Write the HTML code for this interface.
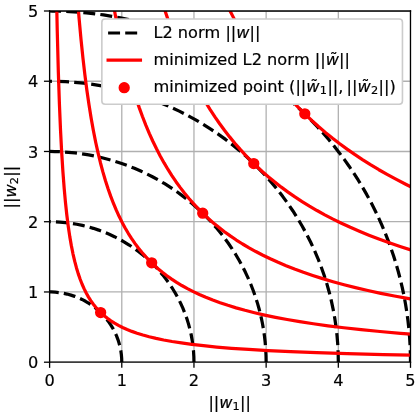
<!DOCTYPE html>
<html><head><meta charset="utf-8"><style>
html,body{margin:0;padding:0;background:#fff;width:416px;height:414px;overflow:hidden}
svg{display:block}
svg text{stroke:#000;stroke-width:0.2px;stroke-linejoin:round}
</style></head><body>
<svg width="416" height="414" viewBox="0 0 416 414" version="1.1">
  <defs>
  <style type="text/css">*{stroke-linejoin: round; stroke-linecap: butt}</style>
 </defs>
 <g id="figure_1">
  <g id="patch_1">
   <path d="M 0 414 L 416 414 L 416 0 L 0 0 z
" style="fill: #ffffff"/>
  </g>
  <g id="axes_1">
   <g id="patch_2">
    <path d="M 49.6 362.2 L 410.5 362.2 L 410.5 11 L 49.6 11 z
" style="fill: #ffffff"/>
   </g>
   <g id="matplotlib.axis_1">
    <g id="xtick_1">
     <g id="line2d_1">
      <path d="M 49.6 362.2 L 49.6 11 " clip-path="url(#p5a81e6f7e7)" style="fill: none; stroke: #b0b0b0; stroke-width: 1.292; stroke-linecap: square"/>
     </g>
     <g id="line2d_2">
      <defs>
       <path id="m3a37640025" d="M 0 0 L 0 5.6525 " style="stroke: #000000; stroke-width: 1.292"/>
      </defs>
      <g>
       <use href="#m3a37640025" x="49.6" y="362.2" style="stroke: #000000; stroke-width: 1.292"/>
      </g>
     </g>
     <g id="text_1">
      <text style="font-size: 16.15px; font-family: 'DejaVu Sans', sans-serif; text-anchor: middle" x="49.6" y="385.776477" transform="rotate(-0 49.6 385.776477)">0</text>
     </g>
    </g>
    <g id="xtick_2">
     <g id="line2d_3">
      <path d="M 121.78 362.2 L 121.78 11 " clip-path="url(#p5a81e6f7e7)" style="fill: none; stroke: #b0b0b0; stroke-width: 1.292; stroke-linecap: square"/>
     </g>
     <g id="line2d_4">
      <g>
       <use href="#m3a37640025" x="121.78" y="362.2" style="stroke: #000000; stroke-width: 1.292"/>
      </g>
     </g>
     <g id="text_2">
      <text style="font-size: 16.15px; font-family: 'DejaVu Sans', sans-serif; text-anchor: middle" x="121.78" y="385.776477" transform="rotate(-0 121.78 385.776477)">1</text>
     </g>
    </g>
    <g id="xtick_3">
     <g id="line2d_5">
      <path d="M 193.96 362.2 L 193.96 11 " clip-path="url(#p5a81e6f7e7)" style="fill: none; stroke: #b0b0b0; stroke-width: 1.292; stroke-linecap: square"/>
     </g>
     <g id="line2d_6">
      <g>
       <use href="#m3a37640025" x="193.96" y="362.2" style="stroke: #000000; stroke-width: 1.292"/>
      </g>
     </g>
     <g id="text_3">
      <text style="font-size: 16.15px; font-family: 'DejaVu Sans', sans-serif; text-anchor: middle" x="193.96" y="385.776477" transform="rotate(-0 193.96 385.776477)">2</text>
     </g>
    </g>
    <g id="xtick_4">
     <g id="line2d_7">
      <path d="M 266.14 362.2 L 266.14 11 " clip-path="url(#p5a81e6f7e7)" style="fill: none; stroke: #b0b0b0; stroke-width: 1.292; stroke-linecap: square"/>
     </g>
     <g id="line2d_8">
      <g>
       <use href="#m3a37640025" x="266.14" y="362.2" style="stroke: #000000; stroke-width: 1.292"/>
      </g>
     </g>
     <g id="text_4">
      <text style="font-size: 16.15px; font-family: 'DejaVu Sans', sans-serif; text-anchor: middle" x="266.14" y="385.776477" transform="rotate(-0 266.14 385.776477)">3</text>
     </g>
    </g>
    <g id="xtick_5">
     <g id="line2d_9">
      <path d="M 338.32 362.2 L 338.32 11 " clip-path="url(#p5a81e6f7e7)" style="fill: none; stroke: #b0b0b0; stroke-width: 1.292; stroke-linecap: square"/>
     </g>
     <g id="line2d_10">
      <g>
       <use href="#m3a37640025" x="338.32" y="362.2" style="stroke: #000000; stroke-width: 1.292"/>
      </g>
     </g>
     <g id="text_5">
      <text style="font-size: 16.15px; font-family: 'DejaVu Sans', sans-serif; text-anchor: middle" x="338.32" y="385.776477" transform="rotate(-0 338.32 385.776477)">4</text>
     </g>
    </g>
    <g id="xtick_6">
     <g id="line2d_11">
      <path d="M 410.5 362.2 L 410.5 11 " clip-path="url(#p5a81e6f7e7)" style="fill: none; stroke: #b0b0b0; stroke-width: 1.292; stroke-linecap: square"/>
     </g>
     <g id="line2d_12">
      <g>
       <use href="#m3a37640025" x="410.5" y="362.2" style="stroke: #000000; stroke-width: 1.292"/>
      </g>
     </g>
     <g id="text_6">
      <text style="font-size: 16.15px; font-family: 'DejaVu Sans', sans-serif; text-anchor: middle" x="410.5" y="385.776477" transform="rotate(-0 410.5 385.776477)">5</text>
     </g>
    </g>
    <g id="text_7" transform="translate(-0.3 0.5)">
     <!-- $||w_1||$ -->
     <g transform="translate(208.732 408.030672)">
      <text>
       <tspan x="0" y="-0.765625" style="font-size: 16.15px; font-family: 'DejaVu Sans'">|</tspan>
       <tspan x="5.432739" y="-0.765625" style="font-size: 16.15px; font-family: 'DejaVu Sans'">|</tspan>
       <tspan x="31.672601" y="-0.765625" style="font-size: 16.15px; font-family: 'DejaVu Sans'">|</tspan>
       <tspan x="37.105341" y="-0.765625" style="font-size: 16.15px; font-family: 'DejaVu Sans'">|</tspan>
       <tspan x="10.865479" y="-0.765625" style="font-style: oblique; font-size: 16.15px; font-family: 'DejaVu Sans'">w</tspan>
       <tspan x="24.05365" y="1.859375" style="font-size: 11.305px; font-family: 'DejaVu Sans'">1</tspan>
      </text>
     </g>
    </g>
   </g>
   <g id="matplotlib.axis_2">
    <g id="ytick_1">
     <g id="line2d_13">
      <path d="M 49.6 362.2 L 410.5 362.2 " clip-path="url(#p5a81e6f7e7)" style="fill: none; stroke: #b0b0b0; stroke-width: 1.292; stroke-linecap: square"/>
     </g>
     <g id="line2d_14">
      <defs>
       <path id="m03eec54f44" d="M 0 0 L -5.6525 0 " style="stroke: #000000; stroke-width: 1.292"/>
      </defs>
      <g>
       <use href="#m03eec54f44" x="49.6" y="362.2" style="stroke: #000000; stroke-width: 1.292"/>
      </g>
     </g>
     <g id="text_8">
      <text style="font-size: 16.15px; font-family: 'DejaVu Sans', sans-serif; text-anchor: end" x="38.295" y="368.335738" transform="rotate(-0 38.295 368.335738)">0</text>
     </g>
    </g>
    <g id="ytick_2">
     <g id="line2d_15">
      <path d="M 49.6 291.96 L 410.5 291.96 " clip-path="url(#p5a81e6f7e7)" style="fill: none; stroke: #b0b0b0; stroke-width: 1.292; stroke-linecap: square"/>
     </g>
     <g id="line2d_16">
      <g>
       <use href="#m03eec54f44" x="49.6" y="291.96" style="stroke: #000000; stroke-width: 1.292"/>
      </g>
     </g>
     <g id="text_9">
      <text style="font-size: 16.15px; font-family: 'DejaVu Sans', sans-serif; text-anchor: end" x="38.295" y="298.095738" transform="rotate(-0 38.295 298.095738)">1</text>
     </g>
    </g>
    <g id="ytick_3">
     <g id="line2d_17">
      <path d="M 49.6 221.72 L 410.5 221.72 " clip-path="url(#p5a81e6f7e7)" style="fill: none; stroke: #b0b0b0; stroke-width: 1.292; stroke-linecap: square"/>
     </g>
     <g id="line2d_18">
      <g>
       <use href="#m03eec54f44" x="49.6" y="221.72" style="stroke: #000000; stroke-width: 1.292"/>
      </g>
     </g>
     <g id="text_10">
      <text style="font-size: 16.15px; font-family: 'DejaVu Sans', sans-serif; text-anchor: end" x="38.295" y="227.855738" transform="rotate(-0 38.295 227.855738)">2</text>
     </g>
    </g>
    <g id="ytick_4">
     <g id="line2d_19">
      <path d="M 49.6 151.48 L 410.5 151.48 " clip-path="url(#p5a81e6f7e7)" style="fill: none; stroke: #b0b0b0; stroke-width: 1.292; stroke-linecap: square"/>
     </g>
     <g id="line2d_20">
      <g>
       <use href="#m03eec54f44" x="49.6" y="151.48" style="stroke: #000000; stroke-width: 1.292"/>
      </g>
     </g>
     <g id="text_11">
      <text style="font-size: 16.15px; font-family: 'DejaVu Sans', sans-serif; text-anchor: end" x="38.295" y="157.615738" transform="rotate(-0 38.295 157.615738)">3</text>
     </g>
    </g>
    <g id="ytick_5">
     <g id="line2d_21">
      <path d="M 49.6 81.24 L 410.5 81.24 " clip-path="url(#p5a81e6f7e7)" style="fill: none; stroke: #b0b0b0; stroke-width: 1.292; stroke-linecap: square"/>
     </g>
     <g id="line2d_22">
      <g>
       <use href="#m03eec54f44" x="49.6" y="81.24" style="stroke: #000000; stroke-width: 1.292"/>
      </g>
     </g>
     <g id="text_12">
      <text style="font-size: 16.15px; font-family: 'DejaVu Sans', sans-serif; text-anchor: end" x="38.295" y="87.375738" transform="rotate(-0 38.295 87.375738)">4</text>
     </g>
    </g>
    <g id="ytick_6">
     <g id="line2d_23">
      <path d="M 49.6 11 L 410.5 11 " clip-path="url(#p5a81e6f7e7)" style="fill: none; stroke: #b0b0b0; stroke-width: 1.292; stroke-linecap: square"/>
     </g>
     <g id="line2d_24">
      <g>
       <use href="#m03eec54f44" x="49.6" y="11" style="stroke: #000000; stroke-width: 1.292"/>
      </g>
     </g>
     <g id="text_13">
      <text style="font-size: 16.15px; font-family: 'DejaVu Sans', sans-serif; text-anchor: end" x="38.295" y="17.135738" transform="rotate(-0 38.295 17.135738)">5</text>
     </g>
    </g>
    <g id="text_14" transform="translate(-1.2 0.5)">
     <!-- $||w_2||$ -->
     <g transform="translate(17.683563 207.918) rotate(-90)">
      <text>
       <tspan x="0" y="-0.765625" style="font-size: 16.15px; font-family: 'DejaVu Sans'">|</tspan>
       <tspan x="5.432739" y="-0.765625" style="font-size: 16.15px; font-family: 'DejaVu Sans'">|</tspan>
       <tspan x="31.672601" y="-0.765625" style="font-size: 16.15px; font-family: 'DejaVu Sans'">|</tspan>
       <tspan x="37.105341" y="-0.765625" style="font-size: 16.15px; font-family: 'DejaVu Sans'">|</tspan>
       <tspan x="10.865479" y="-0.765625" style="font-style: oblique; font-size: 16.15px; font-family: 'DejaVu Sans'">w</tspan>
       <tspan x="24.05365" y="1.859375" style="font-size: 11.305px; font-family: 'DejaVu Sans'">2</tspan>
      </text>
     </g>
    </g>
   </g>
   <g id="line2d_25">
    <path d="M 121.78 362.2 L 121.669845 358.320924 L 121.339714 354.453687 L 120.790617 350.610094 L 120.024229 346.801876 L 119.042888 343.040658 L 117.849592 339.337918 L 116.44798 335.704958 L 114.842333 332.152869 L 113.03755 328.69249 L 111.03914 325.334384 L 108.853203 322.088801 L 106.48641 318.965648 L 103.945987 315.974456 L 101.239686 313.124355 L 98.375768 310.424046 L 95.362975 307.881769 L 92.210502 305.505285 L 88.927972 303.301847 L 85.525403 301.27818 L 82.013181 299.440462 L 78.402026 297.794301 L 74.70296 296.344722 L 70.927274 295.096149 L 67.086491 294.052394 L 63.192336 293.216641 L 59.256694 292.591443 L 55.291577 292.178707 L 51.309088 291.979693 L 49.6 291.96 L 49.6 291.96 " clip-path="url(#p5a81e6f7e7)" style="fill: none; stroke-dasharray: 11.951,5.168; stroke-dashoffset: 0; stroke: #000000; stroke-width: 3.23"/>
   </g>
   <g id="line2d_26">
    <path d="M 193.96 362.2 L 193.847582 356.657081 L 193.510505 351.122794 L 192.949292 345.60576 L 192.164819 340.114571 L 191.158306 334.657779 L 189.931322 329.243883 L 188.485777 323.881315 L 186.823923 318.578427 L 184.948348 313.343478 L 182.861973 308.18462 L 180.568048 303.10989 L 178.070145 298.12719 L 175.372155 293.244281 L 172.478279 288.468768 L 169.393026 283.808089 L 166.121199 279.269502 L 162.667896 274.860075 L 159.038493 270.586678 L 155.238644 266.455964 L 151.274267 262.474369 L 147.151537 258.648092 L 142.876874 254.983093 L 138.456935 251.48508 L 133.898605 248.159502 L 129.208984 245.011537 L 124.395374 242.046088 L 119.465274 239.267775 L 114.426361 236.680924 L 109.286484 234.289564 L 104.053647 232.097419 L 98.736001 230.107905 L 93.341828 228.324118 L 87.879528 226.748838 L 82.357609 225.384518 L 76.784672 224.233283 L 71.169396 223.296925 L 65.520526 222.576904 L 59.84686 222.07434 L 54.157236 221.790017 L 49.6 221.72 L 49.6 221.72 " clip-path="url(#p5a81e6f7e7)" style="fill: none; stroke-dasharray: 11.951,5.168; stroke-dashoffset: 0; stroke: #000000; stroke-width: 3.23"/>
   </g>
   <g id="line2d_27">
    <path d="M 266.14 362.2 L 266.032074 355.547875 L 265.708404 348.902381 L 265.169312 342.270143 L 264.415337 335.657771 L 263.447228 329.071857 L 262.265952 322.518966 L 260.872686 316.005629 L 259.268819 309.538341 L 257.455949 303.123546 L 255.435884 296.76764 L 253.210637 290.476959 L 250.782427 284.257773 L 248.153674 278.116281 L 245.326998 272.058606 L 242.305217 266.090785 L 239.091344 260.218769 L 235.688581 254.448409 L 232.100321 248.785459 L 228.330141 243.235562 L 224.381799 237.804252 L 220.259231 232.496943 L 215.966546 227.318924 L 211.508022 222.275358 L 206.888106 217.371271 L 202.111401 212.611553 L 197.18267 208.000948 L 192.106825 203.544052 L 186.888926 199.245308 L 181.534174 195.109 L 176.047908 191.139252 L 170.435596 187.340022 L 164.702832 183.715096 L 158.855331 180.268087 L 152.898922 177.002432 L 146.839542 173.921386 L 140.683232 171.02802 L 134.436128 168.325219 L 128.104458 165.815676 L 121.694532 163.501893 L 115.212742 161.386177 L 108.665547 159.470637 L 102.059474 157.757181 L 95.401109 156.247519 L 88.697088 154.943154 L 81.954094 153.845388 L 75.178849 152.955314 L 68.378106 152.27382 L 61.558645 151.801584 L 54.727263 151.539079 L 49.6 151.48 L 49.6 151.48 " clip-path="url(#p5a81e6f7e7)" style="fill: none; stroke-dasharray: 11.951,5.168; stroke-dashoffset: 0; stroke: #000000; stroke-width: 3.23"/>
   </g>
   <g id="line2d_28">
    <path d="M 338.32 362.2 L 338.176099 353.3305 L 337.744539 344.469842 L 337.02575 335.626857 L 336.020449 326.810361 L 334.729638 318.029142 L 333.154603 309.291954 L 331.296915 300.607506 L 329.158425 291.984454 L 326.741266 283.431395 L 324.047846 274.956854 L 321.08085 266.569279 L 317.843236 258.27703 L 314.338232 250.088374 L 310.569331 242.011474 L 306.54029 234.05438 L 302.255125 226.225025 L 297.718108 218.531212 L 292.933762 210.980611 L 287.906855 203.58075 L 282.642399 196.339003 L 277.145641 189.26259 L 271.422061 182.358565 L 265.477363 175.63381 L 259.317475 169.095028 L 252.948535 162.748737 L 246.376893 156.601264 L 239.6091 150.658736 L 232.651901 144.927077 L 225.512233 139.412 L 218.197211 134.119003 L 210.714128 129.053363 L 203.070442 124.220127 L 195.273774 119.624116 L 187.331896 115.269909 L 179.252723 111.161848 L 171.044309 107.304027 L 162.714838 103.700292 L 154.27261 100.354234 L 145.726043 97.269191 L 137.083656 94.448236 L 128.354062 91.894182 L 119.545965 89.609575 L 110.668145 87.596692 L 101.72945 85.857539 L 92.738792 84.393851 L 83.705131 83.207085 L 74.637475 82.298426 L 65.54486 81.668779 L 56.436351 81.318772 L 49.6 81.24 L 49.6 81.24 " clip-path="url(#p5a81e6f7e7)" style="fill: none; stroke-dasharray: 11.951,5.168; stroke-dashoffset: 0; stroke: #000000; stroke-width: 3.23"/>
   </g>
   <g id="line2d_29">
    <path d="M 410.5 362.2 L 410.398816 353.88424 L 410.09532 345.573142 L 409.589683 337.271368 L 408.882187 328.983572 L 407.973231 320.714401 L 406.863323 312.468493 L 405.553085 304.250471 L 404.043254 296.064943 L 402.334674 287.916499 L 400.428304 279.809708 L 398.325214 271.749116 L 396.026582 263.739243 L 393.533697 255.784581 L 390.847958 247.889588 L 387.970869 240.058694 L 384.904045 232.296288 L 381.649206 224.606723 L 378.208175 216.994311 L 374.582883 209.463321 L 370.775362 202.017975 L 366.787748 194.662449 L 362.622277 187.400866 L 358.281283 180.237299 L 353.767202 173.175764 L 349.082565 166.220222 L 344.229998 159.374571 L 339.212222 152.642652 L 334.032051 146.028238 L 328.69239 139.535038 L 323.196233 133.166695 L 317.546661 126.926777 L 311.746843 120.818785 L 305.800031 114.846143 L 299.709559 109.012201 L 293.478842 103.320229 L 287.111375 97.77342 L 280.610727 92.374883 L 273.980544 87.127646 L 267.224543 82.034651 L 260.346513 77.098754 L 253.350311 72.322723 L 246.23986 67.709235 L 239.019146 63.260877 L 231.692218 58.980145 L 224.263185 54.869438 L 216.736214 50.931061 L 209.115523 47.167223 L 201.405387 43.580033 L 193.610128 40.171505 L 185.734119 36.943548 L 177.781774 33.897974 L 169.757554 31.036489 L 161.665958 28.360698 L 153.511522 25.872101 L 145.29882 23.572095 L 137.032457 21.461969 L 128.717067 19.542905 L 120.357314 17.81598 L 111.957885 16.282163 L 103.523489 14.942313 L 95.058858 13.797182 L 86.568735 12.847412 L 78.057884 12.093535 L 69.531075 11.535974 L 60.99309 11.175042 L 52.448716 11.010941 L 49.6 11 L 49.6 11 " clip-path="url(#p5a81e6f7e7)" style="fill: none; stroke-dasharray: 11.951,5.168; stroke-dashoffset: 0; stroke: #000000; stroke-width: 3.23"/>
   </g>
   <g id="line2d_30">
    <path d="M 56.579942 -1 L 57.242992 30.528625 L 58.324428 71.64094 L 59.405864 103.685142 L 60.4873 129.363439 L 61.568737 150.401406 L 62.86646 171.119518 L 64.164184 188.145506 L 65.461907 202.385572 L 66.759631 214.471784 L 68.273641 226.449207 L 69.787652 236.630092 L 71.301663 245.390443 L 73.031961 254.016069 L 74.762259 261.455403 L 76.492556 267.937426 L 78.222854 273.635751 L 80.16944 279.2753 L 82.116025 284.239622 L 84.06261 288.643134 L 86.225482 292.986943 L 88.388355 296.846323 L 90.767515 300.623254 L 93.146674 303.987481 L 95.742121 307.261875 L 98.337568 310.187524 L 101.149302 313.024522 L 104.177324 315.752842 L 107.421632 318.358941 L 110.882228 320.834637 L 114.559111 323.176043 L 118.452282 325.382606 L 122.561739 327.456289 L 127.103771 329.49241 L 131.862091 331.384328 L 137.052985 333.213435 L 142.89274 335.027879 L 149.16507 336.739649 L 156.086262 338.394473 L 163.656316 339.974474 L 172.091518 341.505003 L 181.39187 342.965417 L 191.773657 344.369963 L 203.453168 345.723501 L 216.64669 347.024832 L 231.57051 348.269382 L 248.657202 349.46516 L 268.123054 350.599569 L 290.616928 351.682226 L 316.787684 352.712431 L 347.284185 353.684393 L 383.404155 354.605842 L 410.656348 355.179042 L 410.656348 355.179042 " clip-path="url(#p5a81e6f7e7)" style="fill: none; stroke: #ff0000; stroke-width: 3.23; stroke-linecap: square"/>
   </g>
   <g id="line2d_31">
    <path d="M 77.5184 -1 L 79.088003 18.336556 L 81.034589 39.630281 L 82.981174 58.440568 L 84.927759 75.177933 L 86.874344 90.167141 L 89.037217 105.086358 L 91.200089 118.454214 L 93.362961 130.500726 L 95.742121 142.447502 L 98.121281 153.222697 L 100.500441 162.990596 L 102.8796 171.886139 L 105.475047 180.726392 L 108.070494 188.781824 L 110.665941 196.152507 L 113.477675 203.461499 L 116.289409 210.154173 L 119.101143 216.30533 L 122.129165 222.396289 L 125.157186 227.999047 L 128.401495 233.524187 L 131.645804 238.61237 L 135.106399 243.614181 L 138.566995 248.226876 L 142.243879 252.750282 L 145.920762 256.928341 L 149.813932 261.017997 L 153.92339 265.00371 L 158.032847 268.687318 L 162.358592 272.274734 L 166.900624 275.756757 L 171.658944 279.126641 L 176.63355 282.379776 L 181.824444 285.513375 L 187.447912 288.641785 L 193.287668 291.631339 L 199.343711 294.485327 L 205.832328 297.297643 L 212.75352 300.050888 L 220.107286 302.731301 L 227.893627 305.328386 L 236.112542 307.834507 L 244.980319 310.302007 L 254.496958 312.71246 L 264.662458 315.051621 L 275.476821 317.308956 L 287.156332 319.516034 L 299.700992 321.656992 L 313.327088 323.751745 L 328.034621 325.782667 L 343.82359 327.736936 L 361.126569 329.651102 L 379.943559 331.505149 L 400.490847 333.302562 L 410.656348 334.116166 L 410.656348 334.116166 " clip-path="url(#p5a81e6f7e7)" style="fill: none; stroke: #ff0000; stroke-width: 3.23; stroke-linecap: square"/>
   </g>
   <g id="line2d_32">
    <path d="M 112.415739 -1 L 115.207973 14.457899 L 118.019707 28.748494 L 120.831441 41.910898 L 123.643176 54.073637 L 126.671197 66.179498 L 129.699218 77.370075 L 132.72724 87.745387 L 135.971548 98.054517 L 139.215857 107.617216 L 142.460166 116.51172 L 145.920762 125.338767 L 149.381358 133.553538 L 152.841953 141.217603 L 156.518837 148.817072 L 160.19572 155.911235 L 164.08889 162.926041 L 167.982061 169.479462 L 171.875231 175.615569 L 175.984689 181.682449 L 180.094146 187.36722 L 184.419891 192.976792 L 188.961923 198.492053 L 193.503955 203.659157 L 198.262275 208.733665 L 203.236881 213.70275 L 208.211488 218.360139 L 213.402382 222.918421 L 218.809563 227.369237 L 224.433031 231.706041 L 230.272787 235.923903 L 236.32883 240.019325 L 242.60116 243.990066 L 249.089777 247.83497 L 255.794681 251.553817 L 262.93216 255.25572 L 270.285927 258.819351 L 278.072268 262.342566 L 286.074896 265.721876 L 294.510098 269.044779 L 303.377875 272.299908 L 312.678227 275.478059 L 322.62744 278.638236 L 333.009227 281.699253 L 344.039877 284.715066 L 355.503101 287.618689 L 367.831474 290.507989 L 380.808708 293.316985 L 394.434805 296.038887 L 408.92605 298.707096 L 410.656348 299.011374 L 410.656348 299.011374 " clip-path="url(#p5a81e6f7e7)" style="fill: none; stroke: #ff0000; stroke-width: 3.23; stroke-linecap: square"/>
   </g>
   <g id="line2d_33">
    <path d="M 161.272326 -1 L 164.737752 9.931652 L 168.414635 20.833083 L 172.307805 31.663687 L 176.200976 41.828175 L 180.094146 51.386168 L 184.203604 60.875337 L 188.313061 69.802261 L 192.422519 78.215472 L 196.748264 86.563818 L 201.074009 94.435346 L 205.616041 102.23067 L 210.158073 109.58495 L 214.916392 116.855996 L 219.674712 123.720186 L 224.649318 130.497381 L 229.623925 136.900026 L 234.814819 143.21436 L 240.005713 149.184408 L 245.412894 155.066625 L 251.036362 160.849136 L 256.65983 166.317556 L 262.499586 171.690538 L 268.555629 176.959795 L 274.827959 182.118514 L 281.316576 187.161225 L 288.021481 192.083677 L 294.942673 196.882711 L 302.080152 201.556142 L 309.433918 206.102652 L 317.003971 210.521678 L 324.790312 214.813323 L 333.009227 219.087562 L 341.44443 223.223952 L 350.312207 227.322251 L 359.396271 231.277231 L 368.91291 235.179186 L 378.862123 239.017336 L 389.243911 242.782621 L 400.058273 246.467576 L 410.656348 249.864666 L 410.656348 249.864666 " clip-path="url(#p5a81e6f7e7)" style="fill: none; stroke: #ff0000; stroke-width: 3.23; stroke-linecap: square"/>
   </g>
   <g id="line2d_34">
    <path d="M 224.08806 -1 L 228.758776 8.468849 L 233.517095 17.620613 L 238.491702 26.695373 L 243.466309 35.304417 L 248.440915 43.482698 L 253.631809 51.591373 L 258.822703 59.29769 L 264.229884 66.928723 L 269.637065 74.184706 L 275.260533 81.362057 L 281.100289 88.446389 L 286.940045 95.182101 L 292.996087 101.825888 L 299.268417 108.367174 L 305.540747 114.587845 L 312.029365 120.710104 L 318.734269 126.726308 L 325.655461 132.630044 L 332.576653 138.244987 L 339.714132 143.754799 L 347.067898 149.155028 L 354.637952 154.442114 L 362.424293 159.613304 L 370.426921 164.666576 L 378.862123 169.727087 L 387.513613 174.654907 L 396.38139 179.450747 L 405.681741 184.223899 L 410.656348 186.67604 L 410.656348 186.67604 " clip-path="url(#p5a81e6f7e7)" style="fill: none; stroke: #ff0000; stroke-width: 3.23; stroke-linecap: square"/>
   </g>
   <g id="line2d_35">
    <defs>
     <path id="m33d53af7cc" d="M 0 4.845 C 1.284909 4.845 2.517364 4.3345 3.425932 3.425932 C 4.3345 2.517364 4.845 1.284909 4.845 0 C 4.845 -1.284909 4.3345 -2.517364 3.425932 -3.425932 C 2.517364 -4.3345 1.284909 -4.845 0 -4.845 C -1.284909 -4.845 -2.517364 -4.3345 -3.425932 -3.425932 C -4.3345 -2.517364 -4.845 -1.284909 -4.845 0 C -4.845 1.284909 -4.3345 2.517364 -3.425932 3.425932 C -2.517364 4.3345 -1.284909 4.845 0 4.845 z
" style="stroke: #ff0000; stroke-width: 1.615"/>
    </defs>
    <g clip-path="url(#p5a81e6f7e7)">
     <use href="#m33d53af7cc" x="100.638967" y="312.53282" style="fill: #ff0000; stroke: #ff0000; stroke-width: 1.615"/>
     <use href="#m33d53af7cc" x="151.677935" y="262.865639" style="fill: #ff0000; stroke: #ff0000; stroke-width: 1.615"/>
     <use href="#m33d53af7cc" x="202.716902" y="213.198459" style="fill: #ff0000; stroke: #ff0000; stroke-width: 1.615"/>
     <use href="#m33d53af7cc" x="253.75587" y="163.531279" style="fill: #ff0000; stroke: #ff0000; stroke-width: 1.615"/>
     <use href="#m33d53af7cc" x="304.794837" y="113.864098" style="fill: #ff0000; stroke: #ff0000; stroke-width: 1.615"/>
    </g>
   </g>
   <g id="patch_3">
    <path d="M 49.6 362.2 L 49.6 11 " style="fill: none; stroke: #000000; stroke-width: 1.292; stroke-linejoin: miter; stroke-linecap: square"/>
   </g>
   <g id="patch_4">
    <path d="M 410.5 362.2 L 410.5 11 " style="fill: none; stroke: #000000; stroke-width: 1.292; stroke-linejoin: miter; stroke-linecap: square"/>
   </g>
   <g id="patch_5">
    <path d="M 49.6 362.2 L 410.5 362.2 " style="fill: none; stroke: #000000; stroke-width: 1.292; stroke-linejoin: miter; stroke-linecap: square"/>
   </g>
   <g id="patch_6">
    <path d="M 49.6 11 L 410.5 11 " style="fill: none; stroke: #000000; stroke-width: 1.292; stroke-linejoin: miter; stroke-linecap: square"/>
   </g>
   <g id="legend_1">
    <g id="patch_7">
     <path d="M 105.08 104.3 L 399.21999999999997 104.3 Q 402.45 104.3 402.45 101.07 L 402.45 22.23 Q 402.45 19.0 399.21999999999997 19.0 L 105.08 19.0 Q 101.85 19.0 101.85 22.23 L 101.85 101.07 Q 101.85 104.3 105.08 104.3 z" style="fill: #ffffff; stroke: #cccccc; stroke-width: 1.615; stroke-linejoin: miter"/>
    </g>
    <g id="line2d_36" transform="translate(-0.88 0.68)">
     <path d="M 108.9795 32.318 L 125.1295 32.318 L 141.2795 32.318 " style="fill: none; stroke-dasharray: 11.951,5.168; stroke-dashoffset: 0; stroke: #000000; stroke-width: 3.23"/>
    </g>
    <g id="text_15" transform="translate(-0.7 0.9)">
     <!-- L2 norm $||w||$ -->
     <g transform="translate(154.1995 37.9705)">
      <text>
       <tspan x="0" y="-0.765625" style="font-size: 16.15px; font-family: 'DejaVu Sans'">L</tspan>
       <tspan x="8.983704" y="-0.765625" style="font-size: 16.15px; font-family: 'DejaVu Sans'">2</tspan>
       <tspan x="19.24292" y="-0.765625" style="font-size: 16.15px; font-family: 'DejaVu Sans'"> </tspan>
       <tspan x="24.368591" y="-0.765625" style="font-size: 16.15px; font-family: 'DejaVu Sans'">n</tspan>
       <tspan x="34.58844" y="-0.765625" style="font-size: 16.15px; font-family: 'DejaVu Sans'">o</tspan>
       <tspan x="44.453979" y="-0.765625" style="font-size: 16.15px; font-family: 'DejaVu Sans'">r</tspan>
       <tspan x="51.083496" y="-0.765625" style="font-size: 16.15px; font-family: 'DejaVu Sans'">m</tspan>
       <tspan x="66.791199" y="-0.765625" style="font-size: 16.15px; font-family: 'DejaVu Sans'"> </tspan>
       <tspan x="71.91687" y="-0.765625" style="font-size: 16.15px; font-family: 'DejaVu Sans'">|</tspan>
       <tspan x="77.349609" y="-0.765625" style="font-size: 16.15px; font-family: 'DejaVu Sans'">|</tspan>
       <tspan x="95.97052" y="-0.765625" style="font-size: 16.15px; font-family: 'DejaVu Sans'">|</tspan>
       <tspan x="101.403259" y="-0.765625" style="font-size: 16.15px; font-family: 'DejaVu Sans'">|</tspan>
       <tspan x="82.782349" y="-0.765625" style="font-style: oblique; font-size: 16.15px; font-family: 'DejaVu Sans'">w</tspan>
      </text>
     </g>
    </g>
    <g id="line2d_37" transform="translate(-0.85 2.8)">
     <path d="M 108.9795 57.3505 L 125.1295 57.3505 L 141.2795 57.3505 " style="fill: none; stroke: #ff0000; stroke-width: 3.23; stroke-linecap: square"/>
    </g>
    <g id="text_16" transform="translate(-0.7 1.9) translate(154.2 0) scale(1.0035 1) translate(-154.2 0)">
     <!-- minimized L2 norm $||\tilde{w}||$ -->
     <g transform="translate(154.1995 63.003)">
      <text>
       <tspan x="0" y="-0.028125" style="font-size: 16.15px; font-family: 'DejaVu Sans'">m</tspan>
       <tspan x="15.707703" y="-0.028125" style="font-size: 16.15px; font-family: 'DejaVu Sans'">i</tspan>
       <tspan x="20.187744" y="-0.028125" style="font-size: 16.15px; font-family: 'DejaVu Sans'">n</tspan>
       <tspan x="30.407593" y="-0.028125" style="font-size: 16.15px; font-family: 'DejaVu Sans'">i</tspan>
       <tspan x="34.887634" y="-0.028125" style="font-size: 16.15px; font-family: 'DejaVu Sans'">m</tspan>
       <tspan x="50.595337" y="-0.028125" style="font-size: 16.15px; font-family: 'DejaVu Sans'">i</tspan>
       <tspan x="55.075378" y="-0.028125" style="font-size: 16.15px; font-family: 'DejaVu Sans'">z</tspan>
       <tspan x="63.539429" y="-0.028125" style="font-size: 16.15px; font-family: 'DejaVu Sans'">e</tspan>
       <tspan x="73.460083" y="-0.028125" style="font-size: 16.15px; font-family: 'DejaVu Sans'">d</tspan>
       <tspan x="83.695679" y="-0.028125" style="font-size: 16.15px; font-family: 'DejaVu Sans'"> </tspan>
       <tspan x="88.82135" y="-0.028125" style="font-size: 16.15px; font-family: 'DejaVu Sans'">L</tspan>
       <tspan x="97.805054" y="-0.028125" style="font-size: 16.15px; font-family: 'DejaVu Sans'">2</tspan>
       <tspan x="108.06427" y="-0.028125" style="font-size: 16.15px; font-family: 'DejaVu Sans'"> </tspan>
       <tspan x="113.189941" y="-0.028125" style="font-size: 16.15px; font-family: 'DejaVu Sans'">n</tspan>
       <tspan x="123.40979" y="-0.028125" style="font-size: 16.15px; font-family: 'DejaVu Sans'">o</tspan>
       <tspan x="133.27533" y="-0.028125" style="font-size: 16.15px; font-family: 'DejaVu Sans'">r</tspan>
       <tspan x="139.904846" y="-0.028125" style="font-size: 16.15px; font-family: 'DejaVu Sans'">m</tspan>
       <tspan x="155.612549" y="-0.028125" style="font-size: 16.15px; font-family: 'DejaVu Sans'"> </tspan>
       <tspan x="160.73822" y="-0.028125" style="font-size: 16.15px; font-family: 'DejaVu Sans'">|</tspan>
       <tspan x="166.170959" y="-0.028125" style="font-size: 16.15px; font-family: 'DejaVu Sans'">|</tspan>
       <tspan x="183.588242" y="-0.5625" style="font-size: 16.15px; font-family: 'DejaVu Sans'">̃</tspan>
       <tspan x="184.79187" y="-0.028125" style="font-size: 16.15px; font-family: 'DejaVu Sans'">|</tspan>
       <tspan x="190.224609" y="-0.028125" style="font-size: 16.15px; font-family: 'DejaVu Sans'">|</tspan>
       <tspan x="171.603699" y="-0.028125" style="font-style: oblique; font-size: 16.15px; font-family: 'DejaVu Sans'">w</tspan>
      </text>
     </g>
    </g>
    <g id="line2d_38" transform="translate(-0.93 5.32)">
     <g>
      <use href="#m33d53af7cc" x="125.1295" y="82.383" style="fill: #ff0000; stroke: #ff0000; stroke-width: 1.615"/>
     </g>
    </g>
    <g id="text_17" transform="translate(-0.7 3.8) translate(154.2 0) scale(1.004 1) translate(-154.2 0)">
     <!-- minimized point $(||\tilde{w}_1||, ||\tilde{w}_2||)$ -->
     <g transform="translate(154.1995 88.0355)">
      <text>
       <tspan x="0" y="-0.028125" style="font-size: 16.15px; font-family: 'DejaVu Sans'">m</tspan>
       <tspan x="15.707703" y="-0.028125" style="font-size: 16.15px; font-family: 'DejaVu Sans'">i</tspan>
       <tspan x="20.187744" y="-0.028125" style="font-size: 16.15px; font-family: 'DejaVu Sans'">n</tspan>
       <tspan x="30.407593" y="-0.028125" style="font-size: 16.15px; font-family: 'DejaVu Sans'">i</tspan>
       <tspan x="34.887634" y="-0.028125" style="font-size: 16.15px; font-family: 'DejaVu Sans'">m</tspan>
       <tspan x="50.595337" y="-0.028125" style="font-size: 16.15px; font-family: 'DejaVu Sans'">i</tspan>
       <tspan x="55.075378" y="-0.028125" style="font-size: 16.15px; font-family: 'DejaVu Sans'">z</tspan>
       <tspan x="63.539429" y="-0.028125" style="font-size: 16.15px; font-family: 'DejaVu Sans'">e</tspan>
       <tspan x="73.460083" y="-0.028125" style="font-size: 16.15px; font-family: 'DejaVu Sans'">d</tspan>
       <tspan x="83.695679" y="-0.028125" style="font-size: 16.15px; font-family: 'DejaVu Sans'"> </tspan>
       <tspan x="88.82135" y="-0.028125" style="font-size: 16.15px; font-family: 'DejaVu Sans'">p</tspan>
       <tspan x="99.056946" y="-0.028125" style="font-size: 16.15px; font-family: 'DejaVu Sans'">o</tspan>
       <tspan x="108.922485" y="-0.028125" style="font-size: 16.15px; font-family: 'DejaVu Sans'">i</tspan>
       <tspan x="113.402527" y="-0.028125" style="font-size: 16.15px; font-family: 'DejaVu Sans'">n</tspan>
       <tspan x="123.622375" y="-0.028125" style="font-size: 16.15px; font-family: 'DejaVu Sans'">t</tspan>
       <tspan x="129.944824" y="-0.028125" style="font-size: 16.15px; font-family: 'DejaVu Sans'"> </tspan>
       <tspan x="135.070496" y="-0.028125" style="font-size: 16.15px; font-family: 'DejaVu Sans'">(</tspan>
       <tspan x="141.36145" y="-0.028125" style="font-size: 16.15px; font-family: 'DejaVu Sans'">|</tspan>
       <tspan x="146.794189" y="-0.028125" style="font-size: 16.15px; font-family: 'DejaVu Sans'">|</tspan>
       <tspan x="164.211472" y="-0.5625" style="font-size: 16.15px; font-family: 'DejaVu Sans'">̃</tspan>
       <tspan x="173.187177" y="-0.028125" style="font-size: 16.15px; font-family: 'DejaVu Sans'">|</tspan>
       <tspan x="178.619916" y="-0.028125" style="font-size: 16.15px; font-family: 'DejaVu Sans'">|</tspan>
       <tspan x="184.052655" y="-0.028125" style="font-size: 16.15px; font-family: 'DejaVu Sans'">,</tspan>
       <tspan x="192.319867" y="-0.028125" style="font-size: 16.15px; font-family: 'DejaVu Sans'">|</tspan>
       <tspan x="197.752606" y="-0.028125" style="font-size: 16.15px; font-family: 'DejaVu Sans'">|</tspan>
       <tspan x="215.169888" y="-0.5625" style="font-size: 16.15px; font-family: 'DejaVu Sans'">̃</tspan>
       <tspan x="224.145593" y="-0.028125" style="font-size: 16.15px; font-family: 'DejaVu Sans'">|</tspan>
       <tspan x="229.578333" y="-0.028125" style="font-size: 16.15px; font-family: 'DejaVu Sans'">|</tspan>
       <tspan x="235.011072" y="-0.028125" style="font-size: 16.15px; font-family: 'DejaVu Sans'">)</tspan>
       <tspan x="152.226929" y="-0.028125" style="font-style: oblique; font-size: 16.15px; font-family: 'DejaVu Sans'">w</tspan>
       <tspan x="203.185345" y="-0.028125" style="font-style: oblique; font-size: 16.15px; font-family: 'DejaVu Sans'">w</tspan>
       <tspan x="165.568225" y="2.596875" style="font-size: 11.305px; font-family: 'DejaVu Sans'">1</tspan>
       <tspan x="216.526642" y="2.596875" style="font-size: 11.305px; font-family: 'DejaVu Sans'">2</tspan>
      </text>
     </g>
    </g>
   </g>
  </g>
 </g>
 <defs>
  <clipPath id="p5a81e6f7e7">
   <rect x="49.6" y="11" width="360.9" height="351.2"/>
  </clipPath>
 </defs>
</svg>

</body></html>
